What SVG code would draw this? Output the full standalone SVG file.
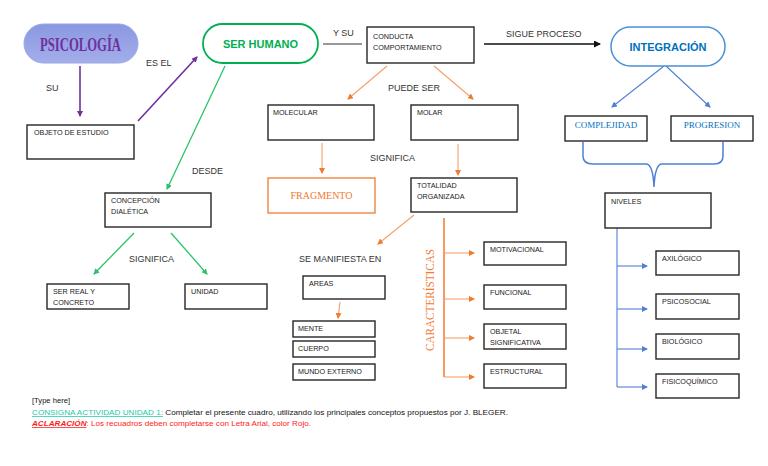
<svg xmlns="http://www.w3.org/2000/svg" width="768" height="466" viewBox="0 0 768 466">
<defs>
<style>
.box{fill:#fff;stroke:#262626;stroke-width:1.4}
.bt{font-family:"Liberation Sans",Arial,sans-serif;font-size:7.2px;fill:#1a1a1a}
.lb{font-family:"Liberation Sans",Arial,sans-serif;font-size:9px;fill:#333}
.pu{stroke:#7030a0;stroke-width:1.6;fill:none}
.gr{stroke:#2cc36b;stroke-width:1.3;fill:none}
.or{stroke:#f4a06b;stroke-width:1.1;fill:none}
.or2{stroke:#f07a30;stroke-width:1.5;fill:none}
.bl{stroke:#4f7fd6;stroke-width:1.1;fill:none}
.ft{font-family:"Liberation Sans",Arial,sans-serif;font-size:7.6px}
</style>
<linearGradient id="lav" x1="0" y1="0" x2="0" y2="1">
<stop offset="0" stop-color="#8a98e0"/><stop offset="1" stop-color="#a3aeea"/>
</linearGradient>
<marker id="mPu" markerWidth="6" markerHeight="6" refX="5" refY="3" orient="auto" markerUnits="userSpaceOnUse"><path d="M0,0 L6,3 L0,6 Z" fill="#7030a0"/></marker>
<marker id="mGr" markerWidth="6" markerHeight="6" refX="5" refY="3" orient="auto" markerUnits="userSpaceOnUse"><path d="M0,0 L6,3 L0,6 Z" fill="#2cc36b"/></marker>
<marker id="mOr" markerWidth="6" markerHeight="6" refX="5" refY="3" orient="auto" markerUnits="userSpaceOnUse"><path d="M0,0 L6,3 L0,6 Z" fill="#f07a30"/></marker>
<marker id="mBl" markerWidth="6" markerHeight="6" refX="5" refY="3" orient="auto" markerUnits="userSpaceOnUse"><path d="M0,0 L6,3 L0,6 Z" fill="#4f7fd6"/></marker>
<marker id="mBk" markerWidth="7" markerHeight="7" refX="6" refY="3.5" orient="auto" markerUnits="userSpaceOnUse"><path d="M0,0 L7,3.5 L0,7 Z" fill="#111"/></marker>
</defs>
<rect width="768" height="466" fill="#fff"/>

<g id="connectors">
<line class="pu" x1="80" y1="66" x2="80" y2="116" marker-end="url(#mPu)"/>
<line class="pu" x1="138" y1="121" x2="197" y2="57" marker-end="url(#mPu)"/>
<line class="gr" x1="225" y1="66" x2="167" y2="189" marker-end="url(#mGr)"/>
<line class="gr" x1="134" y1="233" x2="94" y2="274" marker-end="url(#mGr)"/>
<line class="gr" x1="171" y1="233" x2="207" y2="274" marker-end="url(#mGr)"/>
<line x1="323" y1="44" x2="362" y2="44" stroke="#333" stroke-width="1.2"/>
<line x1="484" y1="44" x2="600" y2="44" stroke="#111" stroke-width="1.3" marker-end="url(#mBk)"/>
<line class="or" x1="387" y1="66" x2="348" y2="99" marker-end="url(#mOr)"/>
<line class="or" x1="434" y1="66" x2="473" y2="99" marker-end="url(#mOr)"/>
<line class="or" x1="322" y1="143" x2="322" y2="173" marker-end="url(#mOr)"/>
<line class="or" x1="458" y1="144" x2="458" y2="175" marker-end="url(#mOr)"/>
<line class="or" x1="414" y1="215" x2="378" y2="244" marker-end="url(#mOr)"/>
<line class="or" x1="340" y1="302" x2="338" y2="318" marker-end="url(#mOr)"/>
<path class="or2" d="M444,218 V377"/>
<line class="or" x1="444" y1="253" x2="474" y2="253" marker-end="url(#mOr)"/>
<line class="or" x1="444" y1="299" x2="474" y2="299" marker-end="url(#mOr)"/>
<line class="or" x1="444" y1="338" x2="474" y2="338" marker-end="url(#mOr)"/>
<line class="or" x1="444" y1="377" x2="474" y2="377" marker-end="url(#mOr)"/>
<line class="bl" x1="664" y1="66" x2="612" y2="107" marker-end="url(#mBl)"/>
<line class="bl" x1="666" y1="66" x2="710" y2="107" marker-end="url(#mBl)"/>
<path d="M583,142 V156 Q583,164 593,164 H646 Q653,164 654,187 Q655,164 662,164 H714 Q723,164 723,156 V142" fill="none" stroke="#4f7fd6" stroke-width="1.5"/>
<path class="bl" d="M617,228 V387"/>
<line class="bl" x1="617" y1="266" x2="647" y2="266" marker-end="url(#mBl)"/>
<line class="bl" x1="617" y1="309" x2="647" y2="309" marker-end="url(#mBl)"/>
<line class="bl" x1="617" y1="349" x2="647" y2="349" marker-end="url(#mBl)"/>
<line class="bl" x1="617" y1="387" x2="647" y2="387" marker-end="url(#mBl)"/>
</g>

<g id="labels">
<text class="lb" x="46" y="91">SU</text>
<text class="lb" x="146" y="66">ES EL</text>
<text class="lb" x="333" y="36">Y SU</text>
<text class="lb" x="506" y="37">SIGUE PROCESO</text>
<text class="lb" x="192" y="174">DESDE</text>
<text class="lb" x="129" y="262">SIGNIFICA</text>
<text class="lb" x="388" y="91">PUEDE SER</text>
<text class="lb" x="370" y="161">SIGNIFICA</text>
<text class="lb" x="299" y="262">SE MANIFIESTA EN</text>
<text x="434" y="300" transform="rotate(-90 434 300)" text-anchor="middle" font-family="'Liberation Serif',serif" font-size="12.5" fill="#f07a30" textLength="102" lengthAdjust="spacingAndGlyphs">CARACTERÍSTICAS</text>
</g>

<g id="psicologia">
<rect x="24" y="24" width="114" height="39" rx="19.5" fill="url(#lav)" stroke="#9aa6e6" stroke-width="1"/>
<text x="80.5" y="51" text-anchor="middle" font-family="'Liberation Serif',serif" font-weight="bold" font-size="19" fill="#7030a0" textLength="81" lengthAdjust="spacingAndGlyphs">PSICOLOGÍA</text>
</g>
<g id="ser-humano">
<rect x="203" y="24" width="115" height="39" rx="19.5" fill="#fff" stroke="#00b050" stroke-width="1.8"/>
<text x="260.5" y="48" text-anchor="middle" font-family="'Liberation Sans',Arial,sans-serif" font-weight="bold" font-size="11" fill="#00b050">SER HUMANO</text>
</g>
<g id="conducta">
<rect class="box" x="367" y="27" width="107" height="36"/>
<text class="bt" x="373" y="39">CONDUCTA</text>
<text class="bt" x="373" y="50">COMPORTAMIENTO</text>
</g>
<g id="integracion">
<rect x="611" y="27" width="114" height="39" rx="19.5" fill="#fff" stroke="#4a90d9" stroke-width="1.5"/>
<text x="668" y="51" text-anchor="middle" font-family="'Liberation Sans',Arial,sans-serif" font-weight="bold" font-size="11" fill="#0070c0">INTEGRACIÓN</text>
</g>
<g id="objeto">
<rect class="box" x="27" y="125" width="107" height="34"/>
<text class="bt" x="34" y="135">OBJETO DE ESTUDIO</text>
</g>
<g id="concepcion">
<rect class="box" x="105" y="193" width="106" height="34"/>
<text class="bt" x="111" y="203">CONCEPCIÓN</text>
<text class="bt" x="111" y="214">DIALÉTICA</text>
</g>
<g id="ser-real">
<rect class="box" x="47" y="284" width="82" height="25"/>
<text class="bt" x="53" y="294">SER REAL Y</text>
<text class="bt" x="53" y="305">CONCRETO</text>
</g>
<g id="unidad">
<rect class="box" x="185" y="284" width="82" height="25"/>
<text class="bt" x="191" y="294">UNIDAD</text>
</g>
<g id="molecular">
<rect class="box" x="268" y="105" width="106" height="35"/>
<text class="bt" x="273" y="115">MOLECULAR</text>
</g>
<g id="molar">
<rect class="box" x="411" y="105" width="107" height="35"/>
<text class="bt" x="417" y="115">MOLAR</text>
</g>
<g id="fragmento">
<rect x="268" y="178" width="107" height="35" fill="#fff" stroke="#f07a30" stroke-width="1.3"/>
<text x="321.5" y="199" text-anchor="middle" font-family="'Liberation Serif',serif" font-size="10" fill="#f07a30">FRAGMENTO</text>
</g>
<g id="totalidad">
<rect class="box" x="411" y="178" width="106" height="34"/>
<text class="bt" x="417" y="188">TOTALIDAD</text>
<text class="bt" x="417" y="199">ORGANIZADA</text>
</g>
<g id="areas">
<rect class="box" x="303" y="276" width="82" height="23"/>
<text class="bt" x="309" y="286">AREAS</text>
</g>
<g id="mente">
<rect class="box" x="293" y="321" width="82" height="16"/>
<text class="bt" x="298" y="331">MENTE</text>
</g>
<g id="cuerpo">
<rect class="box" x="293" y="341" width="82" height="16"/>
<text class="bt" x="298" y="351">CUERPO</text>
</g>
<g id="mundo">
<rect class="box" x="293" y="364" width="82" height="16"/>
<text class="bt" x="298" y="374">MUNDO EXTERNO</text>
</g>
<g id="motivacional">
<rect class="box" x="484" y="242" width="82" height="23"/>
<text class="bt" x="490" y="252">MOTIVACIONAL</text>
</g>
<g id="funcional">
<rect class="box" x="484" y="285" width="82" height="24"/>
<text class="bt" x="490" y="295">FUNCIONAL</text>
</g>
<g id="objetal">
<rect class="box" x="484" y="324" width="82" height="25"/>
<text class="bt" x="490" y="334">OBJETAL</text>
<text class="bt" x="490" y="345">SIGNIFICATIVA</text>
</g>
<g id="estructural">
<rect class="box" x="484" y="364" width="82" height="24"/>
<text class="bt" x="490" y="374">ESTRUCTURAL</text>
</g>
<g id="complejidad">
<rect class="box" x="565" y="116" width="82" height="25"/>
<text x="606" y="128" text-anchor="middle" font-family="'Liberation Serif',serif" font-size="9" fill="#0070c0">COMPLEJIDAD</text>
</g>
<g id="progresion">
<rect class="box" x="671" y="116" width="82" height="25"/>
<text x="712" y="128" text-anchor="middle" font-family="'Liberation Serif',serif" font-size="9" fill="#0070c0">PROGRESION</text>
</g>
<g id="niveles">
<rect class="box" x="605" y="193" width="106" height="35"/>
<text class="bt" x="611" y="204">NIVELES</text>
</g>
<g id="axilogico">
<rect class="box" x="656" y="251" width="83" height="24"/>
<text class="bt" x="662" y="261">AXILÓGICO</text>
</g>
<g id="psicosocial">
<rect class="box" x="656" y="294" width="83" height="25"/>
<text class="bt" x="662" y="304">PSICOSOCIAL</text>
</g>
<g id="biologico">
<rect class="box" x="656" y="334" width="83" height="25"/>
<text class="bt" x="662" y="344">BIOLÓGICO</text>
</g>
<g id="fisicoquimico">
<rect class="box" x="656" y="374" width="83" height="24"/>
<text class="bt" x="662" y="384">FISICOQUÍMICO</text>
</g>

<g id="footer">
<text class="ft" x="32" y="403" fill="#111">[Type here]</text>
<text class="ft" x="32" y="415" textLength="476" lengthAdjust="spacingAndGlyphs"><tspan fill="#22c9a8" text-decoration="underline">CONSIGNA ACTIVIDAD UNIDAD 1:</tspan><tspan fill="#111"> Completar el presente cuadro, utilizando los principales conceptos propuestos por J. BLEGER.</tspan></text>
<text class="ft" x="32" y="426" textLength="279" lengthAdjust="spacingAndGlyphs" fill="#ff1a1a"><tspan font-weight="bold" font-style="italic" text-decoration="underline">ACLARACIÓN</tspan><tspan>: Los recuadros deben completarse con Letra Arial, color Rojo.</tspan></text>
</g>
</svg>
